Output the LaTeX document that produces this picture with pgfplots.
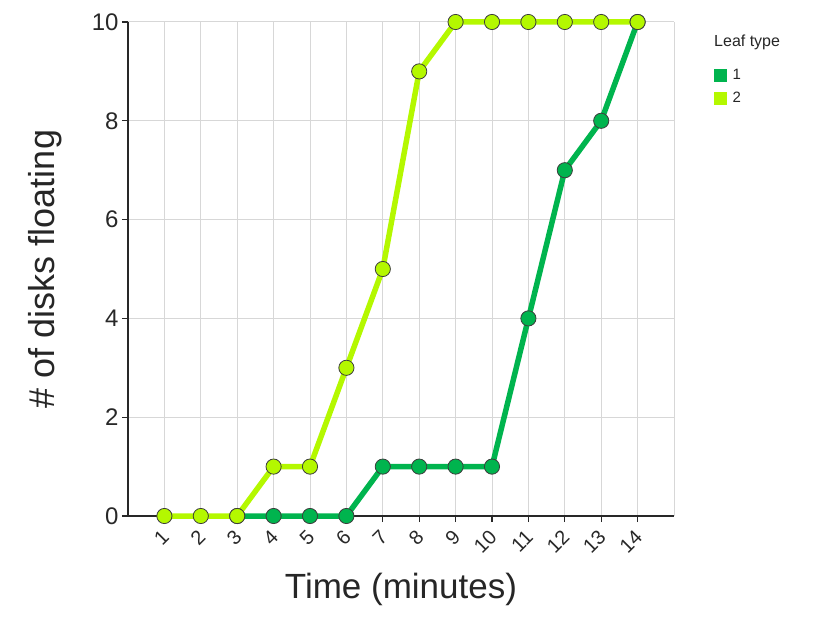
\documentclass[border=0pt]{standalone}
\usepackage{pgfplots}
\pgfplotsset{compat=1.18}
\usepackage{fontspec}
\setmainfont{Liberation Sans}
\definecolor{dgreen}{RGB}{0,180,78}
\definecolor{lgreen}{RGB}{180,248,0}
\definecolor{gridc}{RGB}{215,215,215}
\definecolor{axc}{RGB}{40,40,40}
\definecolor{mkedge}{RGB}{60,60,60}
\begin{document}
\begin{tikzpicture}[x=1pt,y=1pt]
\useasboundingbox (0,0) rectangle (824,632);
\begin{axis}[
  at={(128pt,116pt)}, anchor=south west,
  scale only axis, width=546pt, height=494pt,
  xmin=0, xmax=15, ymin=0, ymax=10,
  xtick={1,...,14}, ytick={0,2,...,10},
  extra x ticks={15}, extra x tick labels={},
  extra x tick style={major tick length=0pt},
  grid=major, grid style={gridc, line width=1pt},
  axis x line*=bottom, axis y line*=left,
  axis line style={axc, line width=1.5pt, -},
  tick align=outside, major tick length=6pt,
  tick style={axc, line width=1.2pt},
  /pgf/number format/assume math mode=true,
  yticklabel style={font=\fontsize{24}{28}\selectfont, text=axc},
  xticklabel style={font=\fontsize{20}{24}\selectfont, text=axc, rotate=45, anchor=east, yshift=-9pt, xshift=-4pt},
  xlabel={Time (minutes)}, ylabel={\# of disks floating},
  label style={font=\fontsize{35}{40}\selectfont, text=black!85},
  xlabel style={at={(axis description cs:0.5,-0.168)}, anchor=base},
  ylabel style={at={(axis description cs:-0.152,0.5)}, anchor=center, font=\fontsize{36}{40}\selectfont},
  clip=false,
  legend style={at={(axis description cs:1.0733,0.909)}, anchor=north west,
    draw=none, fill=none, inner sep=0pt, row sep=7pt, column sep=4pt,
    font=\fontsize{15}{18}\selectfont, text=black!85},
  legend cell align=left,
]
\addplot[dgreen, line width=5.5pt, mark=*, mark size=7.6pt,
  mark options={fill=dgreen, draw=mkedge, line width=0.8pt}, forget plot]
  coordinates {(3,0) (4,0) (5,0) (6,0) (7,1) (8,1) (9,1) (10,1) (11,4) (12,7) (13,8) (14,10)};
\addplot[lgreen, line width=5.5pt, mark=*, mark size=7.6pt,
  mark options={fill=lgreen, draw=mkedge, line width=0.8pt}, forget plot]
  coordinates {(1,0) (2,0) (3,0) (4,1) (5,1) (6,3) (7,5) (8,9) (9,10) (10,10) (11,10) (12,10) (13,10) (14,10)};
\addlegendimage{legend image code/.code={\fill[dgreen] (0pt,-6pt) rectangle (12pt,6pt);}}
\addlegendentry{1}
\addlegendimage{legend image code/.code={\fill[lgreen] (0pt,-6pt) rectangle (12pt,6pt);}}
\addlegendentry{2}
\end{axis}
\node[anchor=base west, inner sep=0pt, font=\fontsize{16}{19}\selectfont, text=black!85] at (714,585) {Leaf type};
\end{tikzpicture}
\end{document}
